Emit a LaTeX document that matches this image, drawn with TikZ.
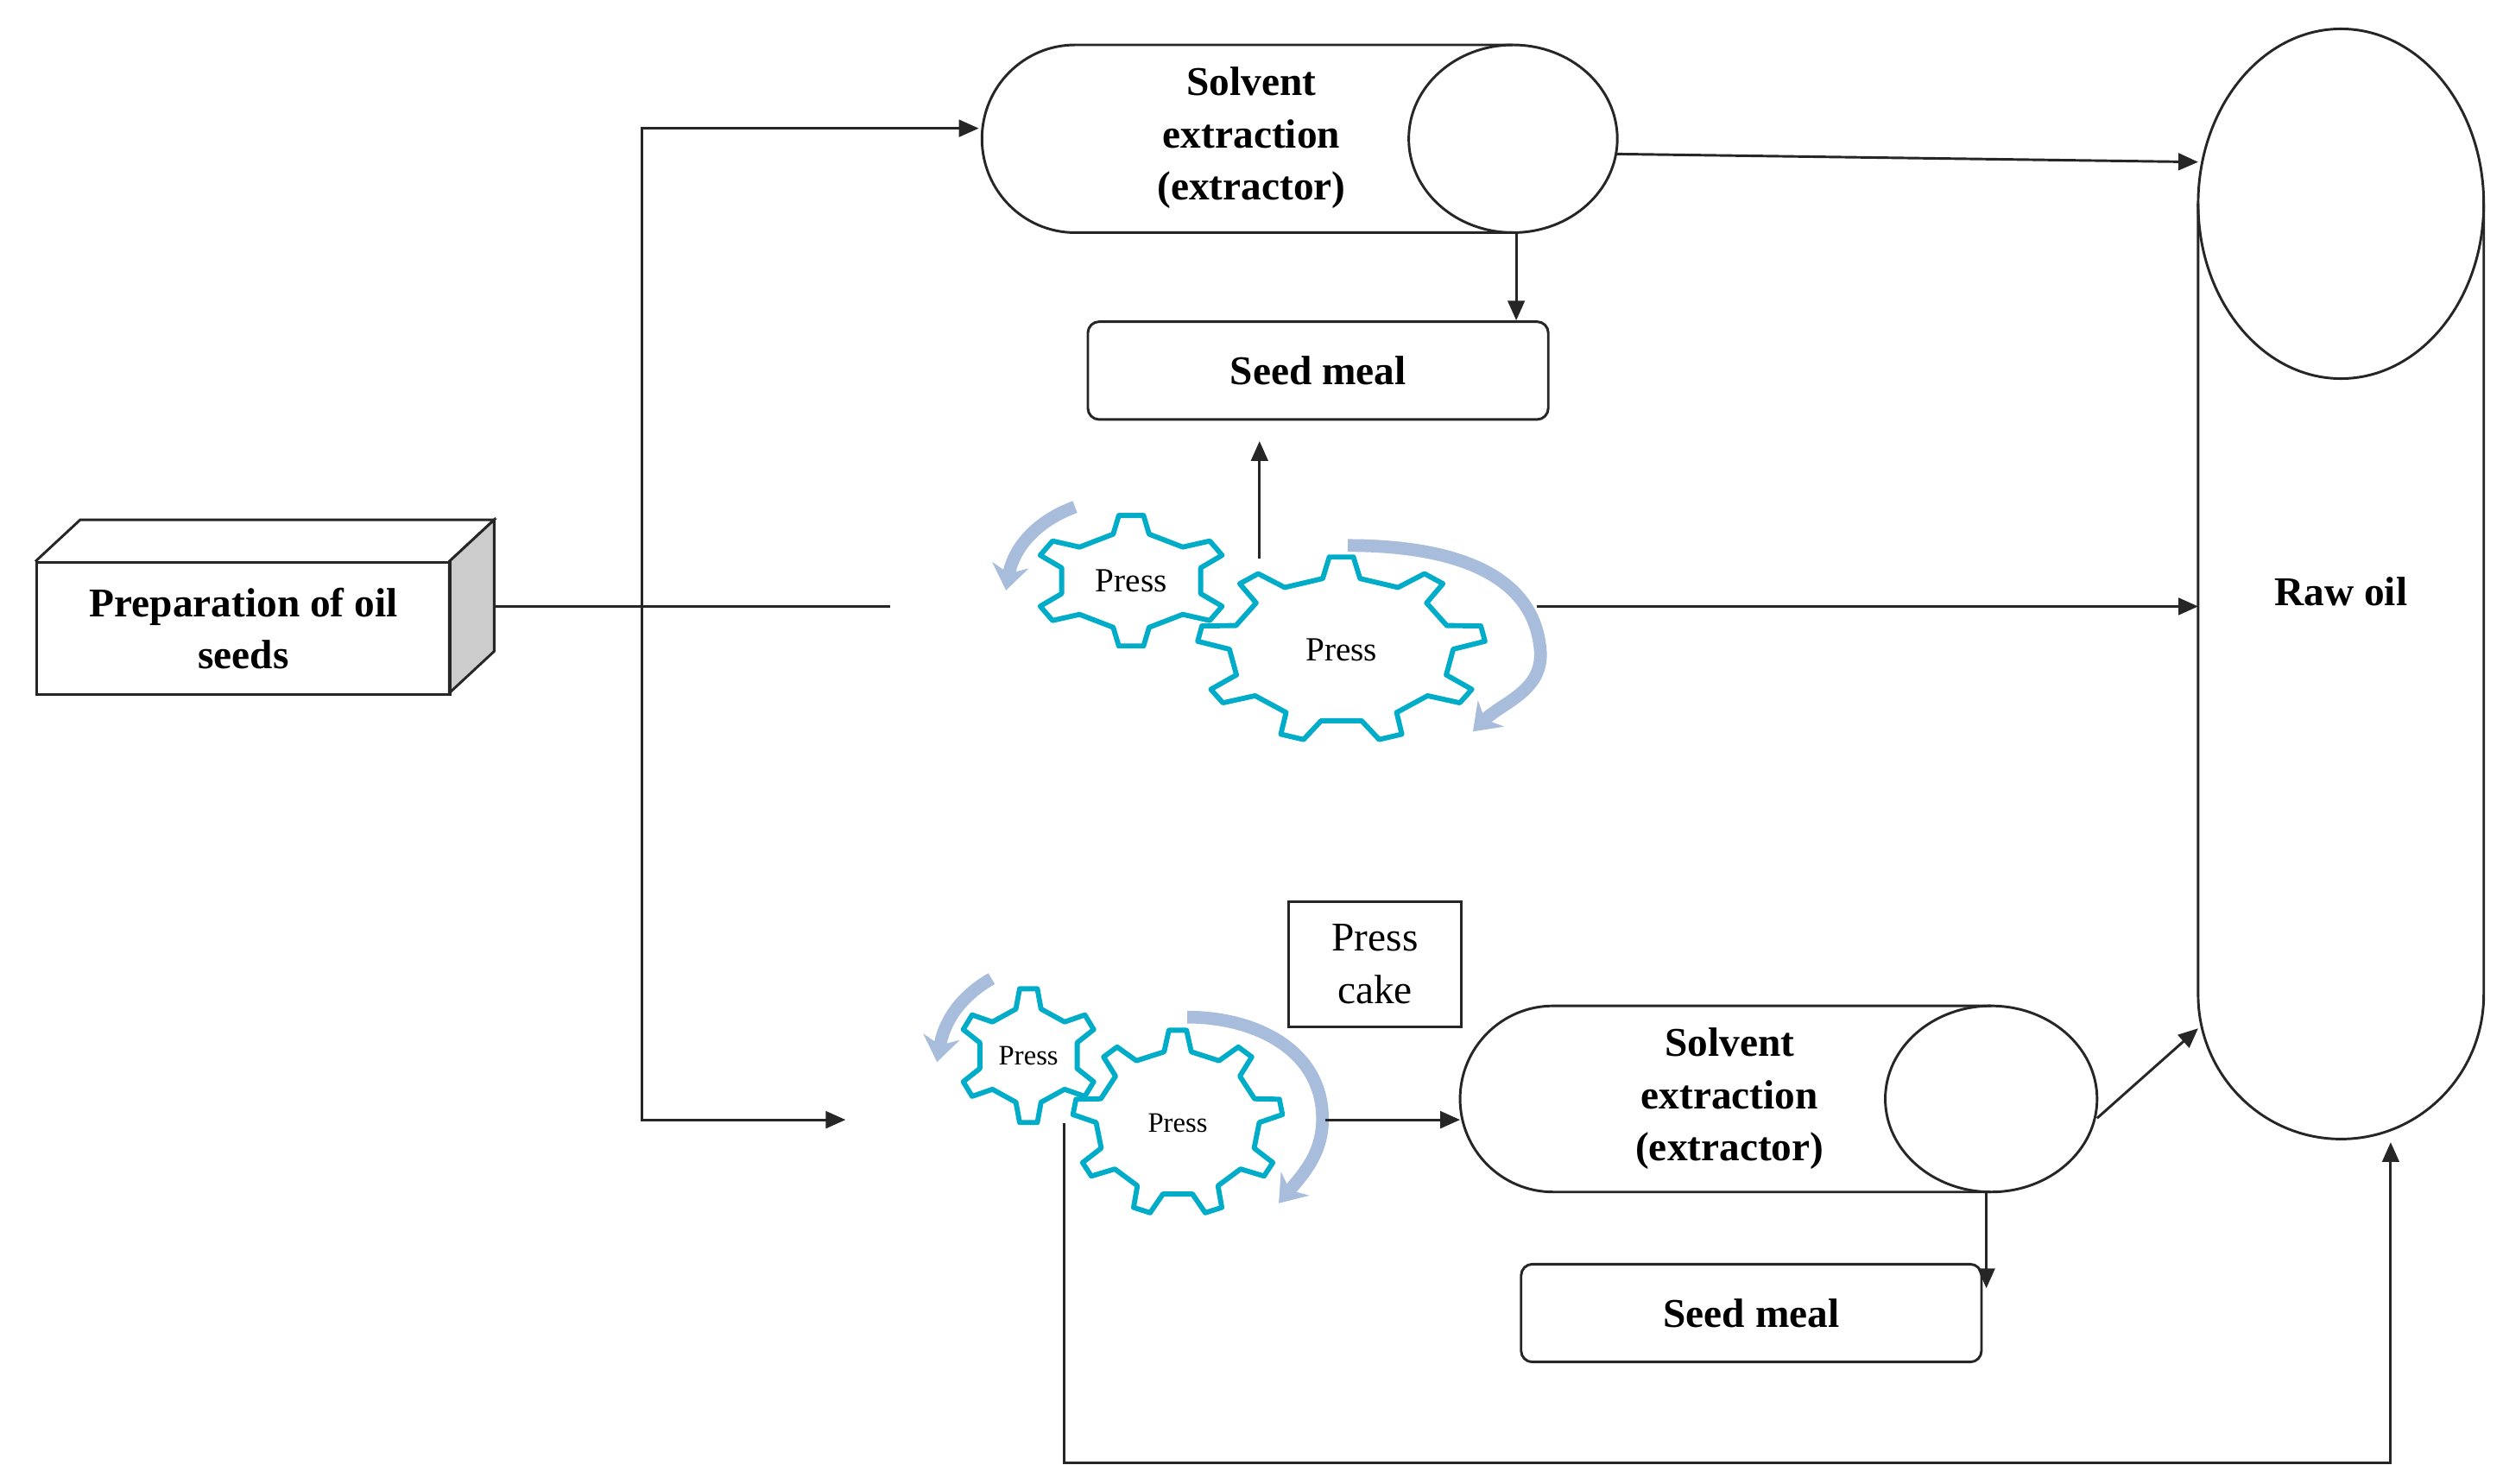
\documentclass[tikz,border=0pt]{standalone}
\usepackage{fontspec}
\setmainfont{Liberation Serif}
\usetikzlibrary{arrows.meta}
\definecolor{gearc}{RGB}{0,172,200}
\definecolor{rotc}{RGB}{168,188,220}
\tikzset{
  x=0.02cm, y=-0.02cm,
  line/.style={draw=black!85, line width=0.9pt},
  arr/.style={line, -{Triangle[length=7pt,width=6pt]}},
  lbl/.style={font=\fontsize{14.5}{18.5}\selectfont\bfseries, align=center},
  rot/.style={rotc, line width=4.5pt, -{Stealth[length=9pt,width=13pt]}},
  pics/gear/.style n args={3}{code={
    \pgfmathsetmacro\p{360/#1}
    \draw[gearc, line width=1.8pt, line join=round]
      ({-90-0.24*\p}:#3)
      \foreach \i in {1,...,#1}{
        -- ({-90+(\i-1)*\p-0.24*\p}:#3) -- ({-90+(\i-1)*\p-0.12*\p}:#2)
        -- ({-90+(\i-1)*\p+0.12*\p}:#2) -- ({-90+(\i-1)*\p+0.24*\p}:#3)
      } -- cycle;
  }}
}
\begin{document}
\begin{tikzpicture}
\useasboundingbox (0,0) rectangle (1560,925);

% preparation box (3D)
\draw[line] (22,350) -- (50,324) -- (308,324) -- (280,350);
\draw[line, fill=black!20] (280,350) -- (308,324) -- (308,406) -- (280,432) -- cycle;
\node[line, minimum width=5.16cm, minimum height=1.64cm, anchor=north west, lbl] (prep) at (22,350) {Preparation of oil\\seeds};

% top extractor
\draw[line] (943,28) -- (670,28) arc[start angle=-90, end angle=-270, x radius=58, y radius=58.5] -- (943,145);
\draw[line] (943,86.5) ellipse[x radius=65, y radius=58.5];
\node[lbl] (ext1) at (780,86) {Solvent\\extraction\\(extractor)};
\coordinate (ext1o) at (1008,96);
\coordinate (ext1b) at (945,145);

% bottom extractor
\draw[line] (1241,627) -- (968,627) arc[start angle=-90, end angle=-270, x radius=58, y radius=58] -- (1241,743);
\draw[line] (1241,685) ellipse[x radius=66, y radius=58];
\node[lbl] (ext2) at (1078,685) {Solvent\\extraction\\(extractor)};
\coordinate (ext2in) at (910,698);
\coordinate (ext2o) at (1307,697);
\coordinate (ext2b) at (1238,743);

% raw oil
\draw[line] (1370,127) -- (1370,620) arc[start angle=180, end angle=0, x radius=89, y radius=90] -- (1548,127);
\draw[line] (1459,127) ellipse[x radius=89, y radius=109];
\node[lbl] (raw) at (1459,369) {Raw oil};

% seed meal boxes and press cake
\node[line, rounded corners=4pt, minimum width=5.74cm, minimum height=1.22cm, lbl] (meal1) at (821.5,231) {Seed meal};
\node[line, rounded corners=4pt, minimum width=5.74cm, minimum height=1.22cm, lbl] (meal2) at (1091.5,818.5) {Seed meal};
\node[line, minimum width=2.16cm, minimum height=1.56cm, align=center, font=\fontsize{14.5}{18.5}\selectfont] (cake) at (857,601) {Press\\cake};

% gears top
\pic[xscale=1.5] at (705,362) {gear={6}{41}{30}};
\pic[xscale=1.55] at (836,405) {gear={9}{58}{45}};
\node[font=\fontsize{12}{14}\selectfont] (p1) at (705,362) {Press};
\node[font=\fontsize{12}{14}\selectfont] (p2) at (836,405) {Press};
\draw[rot] (670,316) to[out=200, in=80] (627,368);
\draw[rot] (840,340) to[out=0, in=95] (960,405) to[out=-85, in=45] (918,456);

% gears bottom
\pic[xscale=1.05] at (641,658) {gear={6}{42}{30}};
\pic[xscale=1.13] at (734,700) {gear={9}{58}{45}};
\node[font=\fontsize{10}{12}\selectfont] (p3) at (641,658) {Press};
\node[font=\fontsize{10}{12}\selectfont] (p4) at (734,700) {Press};
\draw[rot] (618,610) to[out=210, in=80] (584,662);
\draw[rot] (740,634) to[out=0, in=95] (824,692) to[out=-85, in=50] (797,750);

% connectors
\coordinate (prepout) at (308,378);
\coordinate (split) at (400,378);
\coordinate (g1in) at (555,378);
\coordinate (g1out) at (958,378);
\coordinate (g1up) at (785,348);
\coordinate (g2in) at (527,698);
\coordinate (g2out) at (826,698);
\coordinate (g2down) at (663,700);
\coordinate (rawtop) at (1370,101);
\coordinate (rawmid) at (1370,378);
\coordinate (rawlow) at (1370,641);
\coordinate (rawbot) at (1490,712);

\draw[line] (prepout) -- (g1in);
\draw[arr] (split) |- (610,80);
\draw[arr] (split) |- (g2in);
\draw[arr] (ext1o) -- (rawtop);
\draw[arr] (ext1b) -- (meal1.north east -| ext1b);
\draw[arr] (g1up) -- (785,275);
\draw[arr] (g1out) -- (rawmid);
\draw[arr] (g2out) -- (ext2in);
\draw[arr] (ext2o) -- (rawlow);
\draw[arr] (ext2b) -- (1238,803);
\draw[arr] (g2down) -- (663,912) -| (rawbot);
\end{tikzpicture}
\end{document}
